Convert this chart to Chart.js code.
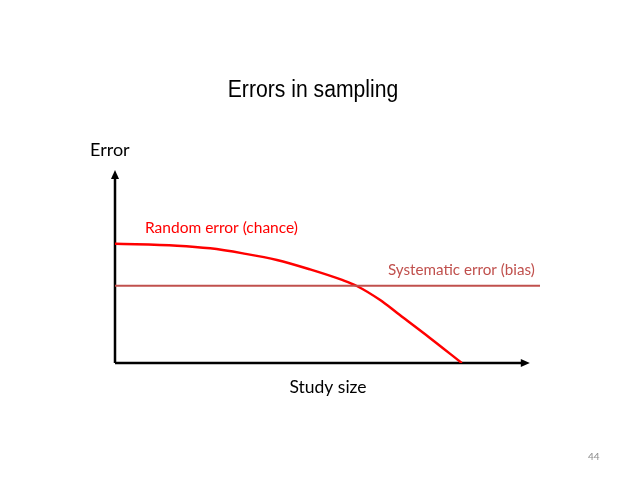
<!DOCTYPE html>
<html>
<head>
<meta charset="utf-8">
<script src="https://cdn.jsdelivr.net/npm/chart.js@4"></script>
<style>
  html, body { margin: 0; padding: 0; background: #fff; }
  #wrap { width: 638px; height: 478px; }
</style>
</head>
<body>
<div id="wrap"><canvas id="errChart"></canvas></div>
<script>
// study size on 0..100, error on 0..100
var studySize = [0, 14.6, 22.4, 30.1, 38.1, 45.9, 53.6, 56.9, 62.4, 66.4, 74.1, 81.6];
var randomError = [61.8, 60.8, 59.4, 56.8, 53.4, 48.5, 42.9, 39.9, 32.6, 25.9, 13, 0];
var biasSize = [0, 100];
var biasError = [40, 40];

var titleText = "Errors in sampling";
var yAxisLabel = "Error";
var xAxisLabel = "Study size";
var randomLabel = "Random error (chance)";
var biasLabel = "Systematic error (bias)";
var pageNumber = "44";

var randomPoints = studySize.map(function (x, i) { return { x: x, y: randomError[i] }; });
var biasPoints = biasSize.map(function (x, i) { return { x: x, y: biasError[i] }; });

// axes with arrow heads plus the slide texts
var slideDecor = {
    id: "slideDecor",
    beforeDatasetsDraw: function (chart) {
        var c = chart.ctx, xs = chart.scales.x, ys = chart.scales.y;
        var x0 = xs.getPixelForValue(0), y0 = ys.getPixelForValue(0);
        var xEnd = xs.getPixelForValue(97.6), yEnd = ys.getPixelForValue(100);
        c.save();
        c.strokeStyle = "#000";
        c.fillStyle = "#000";
        c.lineWidth = 2.5;
        c.beginPath();
        c.moveTo(x0, y0);
        c.lineTo(x0, yEnd + 6);
        c.moveTo(x0, y0);
        c.lineTo(xEnd - 6, y0);
        c.stroke();
        c.beginPath();
        c.moveTo(x0, yEnd);
        c.lineTo(x0 - 4, yEnd + 9);
        c.lineTo(x0 + 4, yEnd + 9);
        c.closePath();
        c.fill();
        c.beginPath();
        c.moveTo(xEnd, y0);
        c.lineTo(xEnd - 9, y0 - 4);
        c.lineTo(xEnd - 9, y0 + 4);
        c.closePath();
        c.fill();
        c.restore();
    },
    afterDraw: function (chart) {
        var c = chart.ctx;
        c.save();
        c.textBaseline = "alphabetic";
        c.textAlign = "center";
        c.fillStyle = "#000";
        c.font = "23px 'Liberation Sans', Arial, sans-serif";
        // narrow face is not installed, squeeze the regular one
        c.save();
        c.translate(313, 97);
        c.scale(0.92, 1);
        c.fillText(titleText, 0, 0);
        c.restore();
        c.textAlign = "left";
        c.font = "18px Lato, 'Open Sans', sans-serif";
        c.fillText(yAxisLabel, 90, 156);
        c.textAlign = "center";
        c.font = "17.5px Lato, 'Open Sans', sans-serif";
        c.fillText(xAxisLabel, 328, 393);
        c.textAlign = "left";
        c.font = "15.5px Lato, 'Open Sans', sans-serif";
        c.fillStyle = "#ff0000";
        c.fillText(randomLabel, 145, 233);
        c.font = "15.2px Lato, 'Open Sans', sans-serif";
        c.fillStyle = "#c0504d";
        c.fillText(biasLabel, 388, 275);
        c.font = "10px Lato, 'Open Sans', sans-serif";
        c.fillStyle = "#8c8c8c";
        c.fillText(pageNumber, 588, 460);
        c.restore();
    }
};

var ctx = document.getElementById("errChart").getContext("2d");
var errChart = new Chart(ctx, {
    type: "line",
    data: {
        datasets: [
            {
                label: biasLabel,
                data: biasPoints,
                borderColor: "#c0504d",
                borderWidth: 2,
                pointRadius: 0,
                tension: 0,
            },
            {
                label: randomLabel,
                data: randomPoints,
                borderColor: "#ff0000",
                borderWidth: 2.5,
                pointRadius: 0,
                cubicInterpolationMode: "monotone",
            },
        ],
    },
    options: {
        responsive: true,
        maintainAspectRatio: false,
        animation: false,
        layout: {
            padding: { left: 115, right: 98, top: 170, bottom: 115 },
        },
        plugins: {
            legend: { display: false },
            tooltip: { enabled: false },
        },
        scales: {
            x: { type: "linear", min: 0, max: 100, display: false },
            y: { type: "linear", min: 0, max: 100, display: false },
        },
    },
    plugins: [slideDecor],
});
</script>
</body>
</html>
